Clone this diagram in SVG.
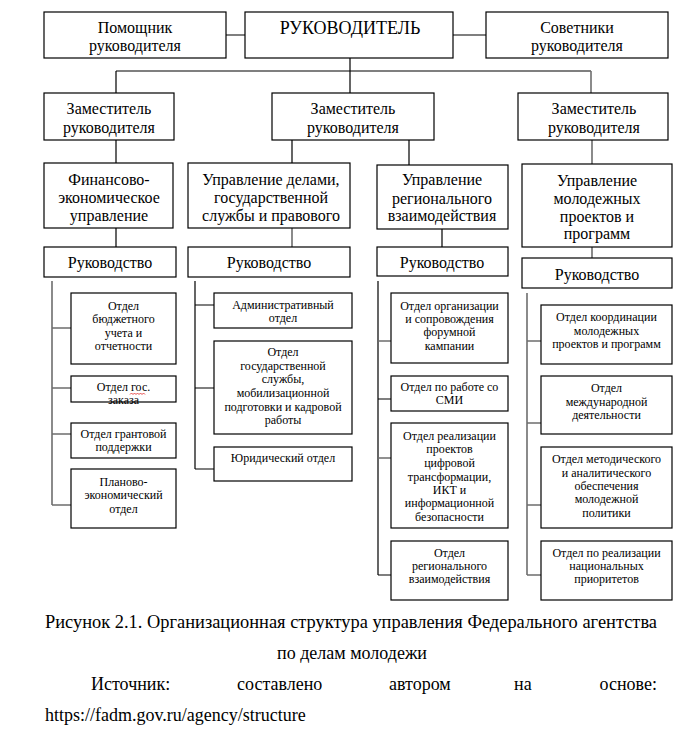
<svg xmlns="http://www.w3.org/2000/svg" width="698" height="737" viewBox="0 0 698 737">
<style>
.b{fill:#fff;stroke:#000;stroke-width:1.2}
.tx text{fill:#000;text-anchor:middle}
.t16{font-size:16px}
.t18{font-size:18px}
.t12{font-size:12px}
.c{stroke:#000;stroke-width:1.2;fill:none}
.g{stroke:#6e6e6e;stroke-width:1.6;fill:none}
.cap{font-size:18px}
</style>
<rect width="698" height="737" fill="#fff"/>
<g id="connectors">
<path class="c" d="M226 35H245M453 35H486M350 58V71M116 71H591M116 71V93M350 71V93"/>
<path class="g" d="M591 71V93"/>
<path class="c" d="M116 140V163M116 228V247M292 140V163M409 140V165M442 229V247"/>
<path class="g" d="M292 228V247M592 140V164M592 247V258"/>
<path class="g" d="M52 281V505M52 328H71M52 388H71M52 434H71M52 505H71"/>
<path class="c" d="M195 281V469M195 305H214M195 388H214M195 469H214"/>
<path class="c" d="M378 281V575M378 399H391M378 575H391"/>
<path class="g" d="M378 341H391M378 458H391"/>
<path class="g" d="M527 293V575M527 341H541M527 423H541M527 505H541M527 575H541"/>
</g>
<g class="tx" font-family="'Liberation Serif', 'Times New Roman', Tinos, 'DejaVu Serif', serif">
<g id="n-pomoshnik"><rect class="b" x="44" y="12" width="182" height="46"/><text class="t16" x="135" y="33">Помощник</text><text class="t16" x="135" y="51">руководителя</text></g>
<g id="n-rukovoditel"><rect class="b" x="245" y="12" width="208" height="46"/><text class="t18" x="350" y="34">РУКОВОДИТЕЛЬ</text></g>
<g id="n-sovetniki"><rect class="b" x="486" y="12" width="182" height="46"/><text class="t16" x="577" y="33">Советники</text><text class="t16" x="577" y="51">руководителя</text></g>
<g id="n-zam1"><rect class="b" x="44" y="93" width="130" height="47"/><text class="t16" x="109" y="114">Заместитель</text><text class="t16" x="109" y="133">руководителя</text></g>
<g id="n-zam2"><rect class="b" x="272" y="93" width="162" height="47"/><text class="t16" x="353" y="114">Заместитель</text><text class="t16" x="353" y="133">руководителя</text></g>
<g id="n-zam3"><rect class="b" x="518" y="93" width="150" height="47"/><text class="t16" x="594" y="114">Заместитель</text><text class="t16" x="594" y="133">руководителя</text></g>
<g id="n-fin"><rect class="b" x="44" y="163" width="129" height="65"/><text class="t16" x="109" y="185">Финансово-</text><text class="t16" x="109" y="203">экономическое</text><text class="t16" x="109" y="221">управление</text></g>
<g id="n-del"><rect class="b" x="188" y="163" width="162" height="65"/><text class="t16" x="271" y="185">Управление делами,</text><text class="t16" x="271" y="203">государственной</text><text class="t16" x="271" y="221">службы и правового</text></g>
<g id="n-reg"><rect class="b" x="377" y="165" width="131" height="64"/><text class="t16" x="442" y="185">Управление</text><text class="t16" x="442" y="204">регионального</text><text class="t16" x="442" y="221">взаимодействия</text></g>
<g id="n-mol"><rect class="b" x="522" y="164" width="150" height="83"/><text class="t16" x="597" y="186">Управление</text><text class="t16" x="597" y="204">молодежных</text><text class="t16" x="597" y="222">проектов и</text><text class="t16" x="597" y="239">программ</text></g>
<g id="n-ruk1"><rect class="b" x="44" y="247" width="132" height="30"/><text class="t16" x="110" y="268">Руководство</text></g>
<g id="n-ruk2"><rect class="b" x="188" y="247" width="162" height="30"/><text class="t16" x="269" y="268">Руководство</text></g>
<g id="n-ruk3"><rect class="b" x="377" y="247" width="131" height="29"/><text class="t16" x="442" y="268">Руководство</text></g>
<g id="n-ruk4"><rect class="b" x="522" y="258" width="150" height="30"/><text class="t16" x="597" y="280">Руководство</text></g>
<g id="n-c1a"><rect class="b" x="71" y="293" width="105" height="71"/><text class="t12" x="123.5" y="310">Отдел</text><text class="t12" x="123.5" y="323">бюджетного</text><text class="t12" x="123.5" y="337">учета и</text><text class="t12" x="123.5" y="350">отчетности</text></g>
<g id="n-c1b"><rect class="b" x="71" y="376" width="105" height="26"/><text class="t12" x="123.5" y="391">Отдел гос.</text><text class="t12" x="123.5" y="404">заказа</text><path d="M130 394.5l1.5-1.5 1.5 1.5 1.5-1.5 1.5 1.5 1.5-1.5 1.5 1.5 1.5-1.5 1.5 1.5 1.5-1.5 1.5 1.5" stroke="#e02020" stroke-width="0.8" fill="none"/></g>
<g id="n-c1c"><rect class="b" x="71" y="423" width="105" height="35"/><text class="t12" x="123.5" y="438">Отдел грантовой</text><text class="t12" x="123.5" y="451">поддержки</text></g>
<g id="n-c1d"><rect class="b" x="71" y="469" width="105" height="59"/><text class="t12" x="123.5" y="486">Планово-</text><text class="t12" x="123.5" y="499">экономический</text><text class="t12" x="123.5" y="513">отдел</text></g>
<g id="n-c2a"><rect class="b" x="214" y="293" width="138" height="35"/><text class="t12" x="283" y="309">Административный</text><text class="t12" x="283" y="322">отдел</text></g>
<g id="n-c2b"><rect class="b" x="214" y="341" width="138" height="93"/><text class="t12" x="283" y="356">Отдел</text><text class="t12" x="283" y="370">государственной</text><text class="t12" x="283" y="383">службы,</text><text class="t12" x="283" y="397">мобилизационной</text><text class="t12" x="283" y="411">подготовки и кадровой</text><text class="t12" x="283" y="424">работы</text></g>
<g id="n-c2c"><rect class="b" x="214" y="447" width="138" height="34"/><text class="t12" x="283" y="462">Юридический отдел</text></g>
<g id="n-c3a"><rect class="b" x="391" y="293" width="117" height="70"/><text class="t12" x="449.5" y="310">Отдел организации</text><text class="t12" x="449.5" y="323">и сопровождения</text><text class="t12" x="449.5" y="336">форумной</text><text class="t12" x="449.5" y="350">кампании</text></g>
<g id="n-c3b"><rect class="b" x="391" y="376" width="117" height="35"/><text class="t12" x="449.5" y="391">Отдел по работе со</text><text class="t12" x="449.5" y="404">СМИ</text></g>
<g id="n-c3c"><rect class="b" x="391" y="423" width="117" height="105"/><text class="t12" x="449.5" y="440">Отдел реализации</text><text class="t12" x="449.5" y="453">проектов</text><text class="t12" x="449.5" y="467">цифровой</text><text class="t12" x="449.5" y="481">трансформации,</text><text class="t12" x="449.5" y="494">ИКТ и</text><text class="t12" x="449.5" y="507">информационной</text><text class="t12" x="449.5" y="521">безопасности</text></g>
<g id="n-c3d"><rect class="b" x="391" y="541" width="117" height="59"/><text class="t12" x="449.5" y="557">Отдел</text><text class="t12" x="449.5" y="570">регионального</text><text class="t12" x="449.5" y="583">взаимодействия</text></g>
<g id="n-c4a"><rect class="b" x="541" y="305" width="131" height="59"/><text class="t12" x="606.5" y="321">Отдел координации</text><text class="t12" x="606.5" y="335">молодежных</text><text class="t12" x="606.5" y="348">проектов и программ</text></g>
<g id="n-c4b"><rect class="b" x="541" y="376" width="131" height="58"/><text class="t12" x="606.5" y="392">Отдел</text><text class="t12" x="606.5" y="406">международной</text><text class="t12" x="606.5" y="419">деятельности</text></g>
<g id="n-c4c"><rect class="b" x="541" y="447" width="131" height="81"/><text class="t12" x="606.5" y="463">Отдел методического</text><text class="t12" x="606.5" y="477">и аналитического</text><text class="t12" x="606.5" y="490">обеспечения</text><text class="t12" x="606.5" y="503">молодежной</text><text class="t12" x="606.5" y="517">политики</text></g>
<g id="n-c4d"><rect class="b" x="541" y="541" width="131" height="59"/><text class="t12" x="606.5" y="557">Отдел по реализации</text><text class="t12" x="606.5" y="570">национальных</text><text class="t12" x="606.5" y="583">приоритетов</text></g>
<g id="caption">
<text class="cap" x="45" y="628" style="text-anchor:start" textLength="612" lengthAdjust="spacingAndGlyphs">Рисунок 2.1. Организационная структура управления Федерального агентства</text>
<text class="cap" x="352" y="659">по делам молодежи</text>
<text class="cap" x="91" y="690" style="text-anchor:start">Источник:</text>
<text class="cap" x="237" y="690" style="text-anchor:start">составлено</text>
<text class="cap" x="389" y="690" style="text-anchor:start">автором</text>
<text class="cap" x="514" y="690" style="text-anchor:start">на</text>
<text class="cap" x="657" y="690" style="text-anchor:end">основе:</text>
<text class="cap" x="45" y="721" style="text-anchor:start">https://fadm.gov.ru/agency/structure</text>
</g>
</g>
</svg>
